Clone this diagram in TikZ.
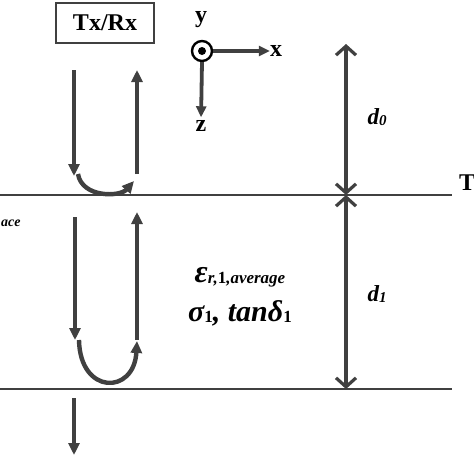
\documentclass[tikz,border=0pt]{standalone}
\usepackage{fontspec}
\setmainfont{Liberation Serif}
\usetikzlibrary{arrows.meta, positioning}
\definecolor{ink}{HTML}{404040}

\begin{document}
\begin{tikzpicture}[
		x=1pt, y=-1pt,
		wave/.style={draw=ink, line width=4.4pt, -{Triangle[length=12pt,width=11pt]}},
		axis/.style={draw=ink, line width=3.8pt, -{Triangle[length=11pt,width=10pt]}},
		surf/.style={draw=ink, line width=2.8pt},
		dim/.style={draw=ink, line width=3.2pt, {Straight Barb[length=9pt,width=20pt,line width=3.2pt]}-{Straight Barb[length=9pt,width=20pt,line width=3.2pt]}},
		lbl/.style={font=\fontsize{24}{28}\selectfont\bfseries, inner sep=0pt},
		dlbl/.style={font=\fontsize{23}{26}\selectfont\bfseries\itshape, inner sep=0pt}
	]
	\useasboundingbox (0,0) rectangle (474,474);

	% antenna box
	\node[draw=ink, line width=2pt, minimum width=98pt, minimum height=40pt, lbl] (txrx) at (105,23) {Tx/Rx};

	% axes
	\node[circle, draw=black, line width=2.4pt, minimum size=20pt, inner sep=0pt] (orig) at (202,51) {};
	\fill[black] (orig) circle (4);
	\node[lbl] (ylab) at (201,20) {y};
	\node[lbl] (xlab) at (276,51) {x};
	\node[lbl] (zlab) at (201,126) {z};
	\draw[axis] (orig.east) -- (xlab.west);
	\draw[axis, shorten >=3pt] (orig.south) -- (zlab.north);

	% interfaces
	\coordinate (s0l) at (0,195);
	\coordinate (s0r) at (452,195);
	\coordinate (s1l) at (0,389);
	\coordinate (s1r) at (452,389);
	\draw[surf] (s0l) -- (s0r);
	\draw[surf] (s1l) -- (s1r);
	\node[lbl, anchor=west] (toplab) at (459,183) {T};
	\node[dlbl, font=\fontsize{14}{16}\selectfont\bfseries\itshape, anchor=west] (sidelab) at (1,223) {ace};

	% thicknesses
	\coordinate (dtop) at (346,44);
	\coordinate (dmid) at (346,195);
	\coordinate (dbot) at (346,389);
	\draw[dim] (dtop) -- (dmid);
	\draw[dim] (dmid) -- (dbot);
	\node[dlbl] (dzero) at (377,117) {d\raisebox{-1pt}{\fontsize{15}{17}\selectfont 0}};
	\node[dlbl] (done) at (377,294) {d\raisebox{-1pt}{\fontsize{15}{17}\selectfont 1}};

	% layer parameters
	\node[dlbl] (eps) at (240,277) {{\fontsize{32}{36}\selectfont ε}\raisebox{-1pt}{\fontsize{17}{20}\selectfont r,\textup{1},average}};
	\node[dlbl] (sig) at (240,313) {{\fontsize{30}{34}\selectfont σ}\raisebox{-1pt}{\fontsize{17}{20}\selectfont\textup{1}}{\fontsize{30}{34}\selectfont , tanδ}\raisebox{-1pt}{\fontsize{17}{20}\selectfont\textup{1}}};

	% waves in air
	\coordinate (a0s) at (74,70);
	\coordinate (a0e) at (74,176);
	\coordinate (b0s) at (137,174);
	\coordinate (b0e) at (137,70);
	\coordinate (c0s) at (78,174);
	\coordinate (c0e) at (134,181);
	\draw[wave] (a0s) -- (a0e);
	\draw[wave] (b0s) -- (b0e);
	\draw[wave] (c0s) .. controls (82,198) and (120,197) .. (c0e);

	% waves in layer 1
	\coordinate (a1s) at (75,217);
	\coordinate (a1e) at (75,340);
	\coordinate (b1s) at (137,340);
	\coordinate (b1e) at (137,212);
	\coordinate (c1s) at (79,340);
	\coordinate (c1e) at (137,341);
	\draw[wave] (a1s) -- (a1e);
	\draw[wave] (b1s) -- (b1e);
	\draw[wave] (c1s) .. controls (80,395) and (134,395) .. (c1e);

	% transmitted wave
	\coordinate (a2s) at (74,398);
	\coordinate (a2e) at (74,455);
	\draw[wave] (a2s) -- (a2e);
\end{tikzpicture}
\end{document}
